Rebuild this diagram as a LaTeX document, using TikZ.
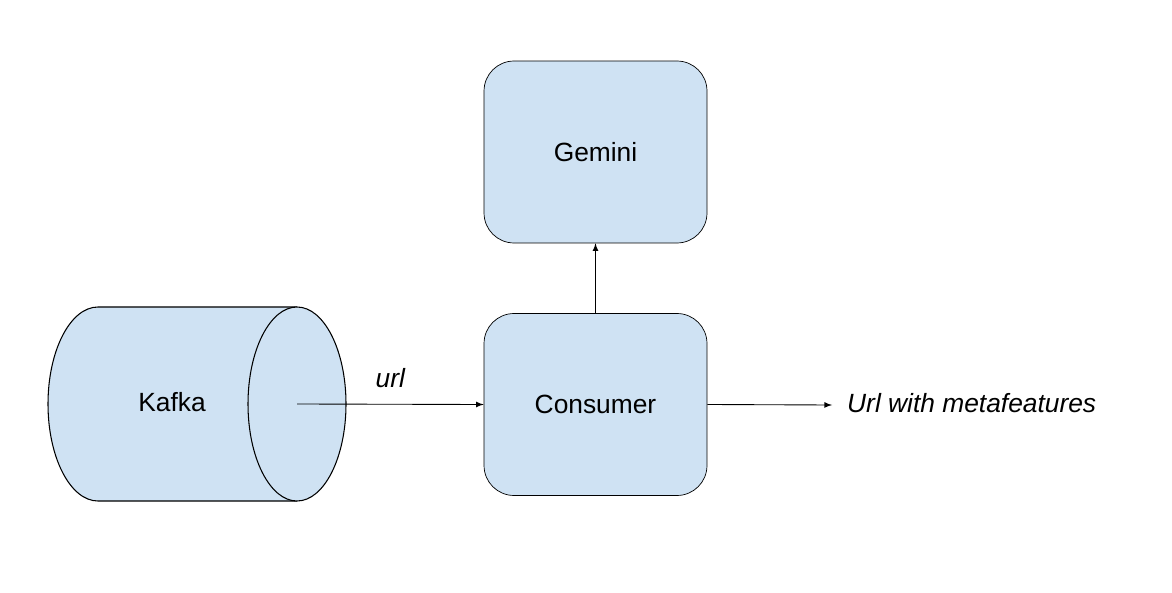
\documentclass[tikz,border=0pt]{standalone}
\usepackage{fontspec}
\setmainfont{Liberation Sans}
\begin{document}
\begin{tikzpicture}[x=0.02cm,y=0.02cm,
  box/.style={draw,fill=blue1,rounded corners=0.6cm,minimum width=4.46cm,minimum height=3.64cm,font=\fontsize{15}{18}\selectfont},
  lbl/.style={font=\fontsize{15}{18}\selectfont},
  arr/.style={-latex,line width=0.5pt}]
\definecolor{blue1}{HTML}{CFE2F3}
\useasboundingbox (0,0) rectangle (1172,592);
\fill[white] (0,0) rectangle (1172,592);
\draw[fill=blue1,line width=0.6pt] (297,285) -- (98,285) arc[start angle=90,end angle=270,x radius=50,y radius=97] -- (297,91);
\draw[fill=blue1,line width=0.6pt] (297,188) ellipse [x radius=49,y radius=97];
\node[lbl] (kafka) at (172,190) {Kafka};
\coordinate (kout) at (297,188);
\node[box] (gemini) at (595.5,440) {Gemini};
\node[box] (consumer) at (595.5,187.5) {Consumer};
\draw[arr] (kout) -- (consumer.west) node[midway,above=6pt,lbl]{\itshape url};
\draw[arr] (consumer.north) -- (gemini.south);
\coordinate (out) at (832,187);
\draw[arr] (consumer.east) -- (out);
\node[lbl,anchor=west] (res) at (841,189) {\itshape Url with metafeatures};
\end{tikzpicture}
\end{document}
